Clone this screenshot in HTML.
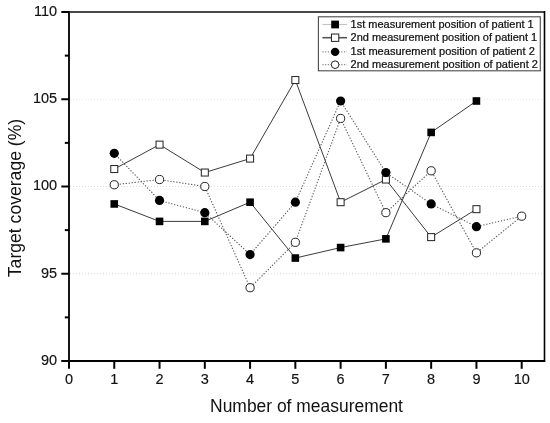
<!DOCTYPE html>
<html><head><meta charset="utf-8"><style>
html,body{margin:0;padding:0;background:#fff;}
svg{display:block;}
text{font-family:"Liberation Sans",Arial,sans-serif;fill:#111;}
</style></head><body>
<svg width="550" height="423" viewBox="0 0 550 423">
<rect x="0" y="0" width="550" height="423" fill="#fff"/>

<line x1="70" y1="99.25" x2="543.3" y2="99.25" stroke="#e6e6e6" stroke-width="1" stroke-dasharray="1 2"/>
<line x1="70" y1="186.50" x2="543.3" y2="186.50" stroke="#dcdcdc" stroke-width="1" stroke-dasharray="1 2"/>
<line x1="70" y1="273.75" x2="543.3" y2="273.75" stroke="#d4d4d4" stroke-width="1" stroke-dasharray="1 2"/>
<polyline points="114.27,203.95 159.54,221.40 204.81,221.40 250.08,202.21 295.35,258.04 340.62,247.57 385.89,238.85 431.16,132.41 476.43,100.99" fill="none" stroke="#3a3a3a" stroke-width="1"/>
<polyline points="114.27,169.05 159.54,144.62 204.81,172.54 250.08,158.58 295.35,80.06 340.62,202.21 385.89,179.52 431.16,237.11 476.43,209.18" fill="none" stroke="#3a3a3a" stroke-width="1"/>
<polyline points="114.27,153.34 159.54,200.46 204.81,212.67 250.08,254.56 295.35,202.21 340.62,100.99 385.89,172.54 431.16,203.95 476.43,226.63 521.70,216.17" fill="none" stroke="#606060" stroke-width="1.25" stroke-linecap="round" stroke-dasharray="0.2 2.8"/>
<polyline points="114.27,184.76 159.54,179.52 204.81,186.50 250.08,287.71 295.35,242.34 340.62,118.44 385.89,212.67 431.16,170.79 476.43,252.81 521.70,216.17" fill="none" stroke="#606060" stroke-width="1.25" stroke-linecap="round" stroke-dasharray="0.2 2.8"/>
<rect x="110.47" y="200.15" width="7.60" height="7.60" fill="#000"/>
<rect x="155.74" y="217.60" width="7.60" height="7.60" fill="#000"/>
<rect x="201.01" y="217.60" width="7.60" height="7.60" fill="#000"/>
<rect x="246.28" y="198.41" width="7.60" height="7.60" fill="#000"/>
<rect x="291.55" y="254.24" width="7.60" height="7.60" fill="#000"/>
<rect x="336.82" y="243.77" width="7.60" height="7.60" fill="#000"/>
<rect x="382.09" y="235.05" width="7.60" height="7.60" fill="#000"/>
<rect x="427.36" y="128.61" width="7.60" height="7.60" fill="#000"/>
<rect x="472.63" y="97.19" width="7.60" height="7.60" fill="#000"/>
<rect x="110.77" y="165.55" width="7.0" height="7.0" fill="#fff" stroke="#222" stroke-width="1"/>
<rect x="156.04" y="141.12" width="7.0" height="7.0" fill="#fff" stroke="#222" stroke-width="1"/>
<rect x="201.31" y="169.04" width="7.0" height="7.0" fill="#fff" stroke="#222" stroke-width="1"/>
<rect x="246.58" y="155.08" width="7.0" height="7.0" fill="#fff" stroke="#222" stroke-width="1"/>
<rect x="291.85" y="76.56" width="7.0" height="7.0" fill="#fff" stroke="#222" stroke-width="1"/>
<rect x="337.12" y="198.71" width="7.0" height="7.0" fill="#fff" stroke="#222" stroke-width="1"/>
<rect x="382.39" y="176.02" width="7.0" height="7.0" fill="#fff" stroke="#222" stroke-width="1"/>
<rect x="427.66" y="233.61" width="7.0" height="7.0" fill="#fff" stroke="#222" stroke-width="1"/>
<rect x="472.93" y="205.68" width="7.0" height="7.0" fill="#fff" stroke="#222" stroke-width="1"/>
<circle cx="114.27" cy="153.34" r="4.60" fill="#000"/>
<circle cx="159.54" cy="200.46" r="4.60" fill="#000"/>
<circle cx="204.81" cy="212.67" r="4.60" fill="#000"/>
<circle cx="250.08" cy="254.56" r="4.60" fill="#000"/>
<circle cx="295.35" cy="202.21" r="4.60" fill="#000"/>
<circle cx="340.62" cy="100.99" r="4.60" fill="#000"/>
<circle cx="385.89" cy="172.54" r="4.60" fill="#000"/>
<circle cx="431.16" cy="203.95" r="4.60" fill="#000"/>
<circle cx="476.43" cy="226.63" r="4.60" fill="#000"/>
<circle cx="114.27" cy="184.76" r="4.10" fill="#fff" stroke="#222" stroke-width="1"/>
<circle cx="159.54" cy="179.52" r="4.10" fill="#fff" stroke="#222" stroke-width="1"/>
<circle cx="204.81" cy="186.50" r="4.10" fill="#fff" stroke="#222" stroke-width="1"/>
<circle cx="250.08" cy="287.71" r="4.10" fill="#fff" stroke="#222" stroke-width="1"/>
<circle cx="295.35" cy="242.34" r="4.10" fill="#fff" stroke="#222" stroke-width="1"/>
<circle cx="340.62" cy="118.44" r="4.10" fill="#fff" stroke="#222" stroke-width="1"/>
<circle cx="385.89" cy="212.67" r="4.10" fill="#fff" stroke="#222" stroke-width="1"/>
<circle cx="431.16" cy="170.79" r="4.10" fill="#fff" stroke="#222" stroke-width="1"/>
<circle cx="476.43" cy="252.81" r="4.10" fill="#fff" stroke="#222" stroke-width="1"/>
<circle cx="521.70" cy="216.17" r="4.10" fill="#fff" stroke="#222" stroke-width="1"/>
<line x1="68" y1="12" x2="545.0999999999999" y2="12" stroke="#484848" stroke-width="2"/>
<line x1="68" y1="361" x2="545.0999999999999" y2="361" stroke="#000" stroke-width="2"/>
<line x1="69" y1="11" x2="69" y2="362" stroke="#161616" stroke-width="2"/>
<line x1="544.5" y1="11" x2="544.5" y2="362" stroke="#000" stroke-width="1.6"/>
<line x1="61.30" y1="12.00" x2="69" y2="12.00" stroke="#000" stroke-width="2"/>
<text x="57.2" y="15.90" font-size="14.5" stroke="#111" stroke-width="0.15" text-anchor="end">110</text>
<line x1="61.30" y1="99.25" x2="69" y2="99.25" stroke="#000" stroke-width="2"/>
<text x="57.2" y="103.15" font-size="14.5" stroke="#111" stroke-width="0.15" text-anchor="end">105</text>
<line x1="61.30" y1="186.50" x2="69" y2="186.50" stroke="#000" stroke-width="2"/>
<text x="57.2" y="190.40" font-size="14.5" stroke="#111" stroke-width="0.15" text-anchor="end">100</text>
<line x1="61.30" y1="273.75" x2="69" y2="273.75" stroke="#000" stroke-width="2"/>
<text x="57.2" y="277.65" font-size="14.5" stroke="#111" stroke-width="0.15" text-anchor="end">95</text>
<line x1="61.30" y1="361.00" x2="69" y2="361.00" stroke="#000" stroke-width="2"/>
<text x="57.2" y="364.90" font-size="14.5" stroke="#111" stroke-width="0.15" text-anchor="end">90</text>
<line x1="64.80" y1="55.62" x2="69" y2="55.62" stroke="#000" stroke-width="2"/>
<line x1="64.80" y1="142.88" x2="69" y2="142.88" stroke="#000" stroke-width="2"/>
<line x1="64.80" y1="230.12" x2="69" y2="230.12" stroke="#000" stroke-width="2"/>
<line x1="64.80" y1="317.38" x2="69" y2="317.38" stroke="#000" stroke-width="2"/>
<line x1="69.00" y1="361" x2="69.00" y2="368.8" stroke="#000" stroke-width="2"/>
<text x="69.00" y="384" font-size="14.5" stroke="#111" stroke-width="0.15" text-anchor="middle">0</text>
<line x1="114.27" y1="361" x2="114.27" y2="368.8" stroke="#000" stroke-width="2"/>
<text x="114.27" y="384" font-size="14.5" stroke="#111" stroke-width="0.15" text-anchor="middle">1</text>
<line x1="159.54" y1="361" x2="159.54" y2="368.8" stroke="#000" stroke-width="2"/>
<text x="159.54" y="384" font-size="14.5" stroke="#111" stroke-width="0.15" text-anchor="middle">2</text>
<line x1="204.81" y1="361" x2="204.81" y2="368.8" stroke="#000" stroke-width="2"/>
<text x="204.81" y="384" font-size="14.5" stroke="#111" stroke-width="0.15" text-anchor="middle">3</text>
<line x1="250.08" y1="361" x2="250.08" y2="368.8" stroke="#000" stroke-width="2"/>
<text x="250.08" y="384" font-size="14.5" stroke="#111" stroke-width="0.15" text-anchor="middle">4</text>
<line x1="295.35" y1="361" x2="295.35" y2="368.8" stroke="#000" stroke-width="2"/>
<text x="295.35" y="384" font-size="14.5" stroke="#111" stroke-width="0.15" text-anchor="middle">5</text>
<line x1="340.62" y1="361" x2="340.62" y2="368.8" stroke="#000" stroke-width="2"/>
<text x="340.62" y="384" font-size="14.5" stroke="#111" stroke-width="0.15" text-anchor="middle">6</text>
<line x1="385.89" y1="361" x2="385.89" y2="368.8" stroke="#000" stroke-width="2"/>
<text x="385.89" y="384" font-size="14.5" stroke="#111" stroke-width="0.15" text-anchor="middle">7</text>
<line x1="431.16" y1="361" x2="431.16" y2="368.8" stroke="#000" stroke-width="2"/>
<text x="431.16" y="384" font-size="14.5" stroke="#111" stroke-width="0.15" text-anchor="middle">8</text>
<line x1="476.43" y1="361" x2="476.43" y2="368.8" stroke="#000" stroke-width="2"/>
<text x="476.43" y="384" font-size="14.5" stroke="#111" stroke-width="0.15" text-anchor="middle">9</text>
<line x1="521.70" y1="361" x2="521.70" y2="368.8" stroke="#000" stroke-width="2"/>
<text x="521.70" y="384" font-size="14.5" stroke="#111" stroke-width="0.15" text-anchor="middle">10</text>
<text x="306.5" y="412.2" font-size="17.45" text-anchor="middle">Number of measurement</text>
<text transform="translate(21.0,198) rotate(-90)" x="0" y="0" font-size="17.6" text-anchor="middle">Target coverage (%)</text>
<rect x="318.4" y="16.8" width="221.9" height="54" fill="#fff" stroke="#4a4a4a" stroke-width="1.1"/>
<line x1="322.4" y1="24.5" x2="347.1" y2="24.5" stroke="#c2c2c2" stroke-width="1.1"/>
<line x1="322.4" y1="37.7" x2="347.1" y2="37.7" stroke="#555" stroke-width="1.6"/>
<line x1="322.4" y1="51.9" x2="347.1" y2="51.9" stroke="#8a8a8a" stroke-width="1.3" stroke-dasharray="1.2 1.5"/>
<line x1="322.4" y1="64.7" x2="347.1" y2="64.7" stroke="#8a8a8a" stroke-width="1.3" stroke-dasharray="1.2 1.5"/>
<rect x="331.22" y="20.62" width="7.75" height="7.75" fill="#000"/>
<rect x="331.43" y="34.03" width="7.3500000000000005" height="7.3500000000000005" fill="#fff" stroke="#222" stroke-width="1"/>
<circle cx="335.10" cy="51.90" r="4.19" fill="#000"/>
<circle cx="335.10" cy="64.70" r="3.81" fill="#fff" stroke="#222" stroke-width="1"/>
<text x="350.6" y="28.2" font-size="10.0" stroke="#111" stroke-width="0.22" textLength="183.1" lengthAdjust="spacingAndGlyphs">1st measurement position of patient 1</text>
<text x="350.6" y="41.1" font-size="10.0" stroke="#111" stroke-width="0.22" textLength="186.5" lengthAdjust="spacingAndGlyphs">2nd measurement position of patient 1</text>
<text x="350.6" y="55.0" font-size="10.0" stroke="#111" stroke-width="0.22" textLength="184.2" lengthAdjust="spacingAndGlyphs">1st measurement position of patient 2</text>
<text x="350.6" y="68.0" font-size="10.0" stroke="#111" stroke-width="0.22" textLength="187.3" lengthAdjust="spacingAndGlyphs">2nd measurement position of patient 2</text>
</svg></body></html>
